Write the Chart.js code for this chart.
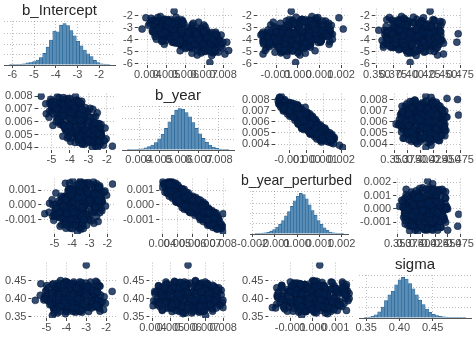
<!DOCTYPE html>
<html>
<head>
<meta charset="UTF-8">
<title>mcmc pairs</title>
<script src="https://cdn.jsdelivr.net/npm/chart.js"></script>
<style>
  html, body { margin: 0; padding: 0; background: #fff; }
  #grid { position: relative; width: 474px; height: 338px; overflow: hidden; }
  #grid canvas { position: absolute; }
</style>
</head>
<body>
<div id="grid"></div>
<script>
// posterior draws, shown in both triangles
const drawsIntercept = [-3.18,-3.48,-3.87,-4.38,-3.93,-2.76,-3.33,-4.38,-3.18,-3.93,
  -3.18,-4.38,-2.70,-4.23,-2.55,-4.59,-3.33,-3.03,-4.02,-4.77,
  -2.88,-3.96,-3.39,-3.21,-4.62,-2.79,-3.75,-4.23,-2.88,-2.91,
  -4.20,-3.45,-3.66,-3.30,-4.44,-2.76,-4.41,-3.72,-3.03,-4.29,
  -3.99,-2.67,-3.96,-3.93,-2.76,-3.51,-4.65,-2.31,-4.65,-3.54,
  -4.05,-2.49,-5.10,-2.82,-3.99,-3.54,-3.81,-3.90,-3.60,-3.36,
  -3.99,-3.36,-4.08,-3.36,-2.73,-4.98,-2.34,-4.71,-3.24,-2.91,
  -4.08,-3.90,-3.24,-3.57,-3.87,-4.77,-2.43,-3.33,-3.06,-3.87,
  -2.31,-5.04,-2.61,-5.28,-2.61,-3.81,-4.44,-3.33,-3.78,-4.56,
  -2.34,-4.44,-2.73,-4.53,-3.57,-4.05,-2.82,-3.75,-3.63,-2.52,
  -4.53,-3.63,-3.21,-3.63,-3.96,-3.15,-2.73,-4.59,-3.60,-3.87,
  -4.59,-2.37,-4.29,-3.36,-4.59,-2.79,-3.21,-3.78,-3.45,-4.41,
  -3.63,-3.06,-4.08,-3.42,-4.98,-2.31,-3.93,-3.36,-3.57,-4.38,
  -3.51,-2.49,-4.68,-2.61,-4.29,-3.48,-3.42,-4.92,-3.33,-2.70,
  -4.53,-3.39,-2.34,-5.31,-3.39,-3.63,-2.73,-4.20,-2.76,-4.38,
  -3.06,-4.08,-4.53,-2.40,-3.93,-3.30,-3.48,-3.60,-3.99,-3.30,
  -4.38,-2.82,-4.71,-2.46,-4.95,-2.31,-4.11,-3.99,-3.45,-4.20,
  -3.18,-2.43,-3.57,-2.46,-5.01,-3.54,-4.29,-3.21,-3.21,-4.29,
  -4.38,-2.28,-3.39,-3.96,-3.30,-3.24,-3.39,-3.57,-4.98,-2.04,
  -4.62,-4.11,-2.88,-4.17,-3.33,-2.73,-4.14,-4.11,-3.39,-5.10,
  -2.43,-4.35,-3.09,-4.62,-2.52,-4.08,-3.54,-3.45,-3.12,-4.65,
  -2.19,-3.81,-4.50,-2.91,-3.63,-4.29,-2.61,-4.14,-4.32,-2.67,
  -4.86,-2.43,-4.92,-2.73,-3.81,-3.96,-4.35,-2.79,-4.02,-3.39,
  -4.83,-3.42,-4.38,-2.67,-3.87,-2.13,-4.08,-4.05,-3.75,-2.49,
  -4.74,-3.51,-3.51,-5.13,-2.10,-3.33,-3.72,-3.90,-3.66,-3.42];
const drawsYear = [0.00621,0.00516,0.00719,0.00572,0.00663,0.00453,0.00600,0.00684,0.00544,0.00754,
  0.00488,0.00642,0.00586,0.00705,0.00530,0.00628,0.00425,0.00670,0.00558,0.00740,
  0.00502,0.00607,0.00656,0.00467,0.00691,0.00579,0.00733,0.00537,0.00635,0.00481,
  0.00768,0.00593,0.00677,0.00446,0.00649,0.00565,0.00712,0.00509,0.00614,0.00551,
  0.00782,0.00474,0.00663,0.00586,0.00698,0.00439,0.00621,0.00523,0.00726,0.00572,
  0.00642,0.00495,0.00747,0.00544,0.00670,0.00460,0.00600,0.00719,0.00516,0.00628,
  0.00558,0.00761,0.00481,0.00656,0.00579,0.00684,0.00432,0.00635,0.00530,0.00705,
  0.00593,0.00740,0.00502,0.00614,0.00537,0.00712,0.00418,0.00649,0.00565,0.00677,
  0.00488,0.00775,0.00551,0.00663,0.00467,0.00691,0.00586,0.00607,0.00509,0.00733,
  0.00558,0.00754,0.00453,0.00621,0.00523,0.00698,0.00572,0.00642,0.00474,0.00670,
  0.00579,0.00726,0.00495,0.00635,0.00446,0.00684,0.00544,0.00789,0.00530,0.00600,
  0.00712,0.00481,0.00656,0.00565,0.00747,0.00460,0.00628,0.00516,0.00691,0.00593,
  0.00768,0.00439,0.00649,0.00537,0.00705,0.00502,0.00614,0.00551,0.00733,0.00488,
  0.00677,0.00586,0.00796,0.00411,0.00642,0.00523,0.00719,0.00572,0.00663,0.00467,
  0.00607,0.00698,0.00509,0.00740,0.00558,0.00621,0.00432,0.00670,0.00544,0.00761,
  0.00684,0.00495,0.00747,0.00460,0.00642,0.00537,0.00726,0.00481,0.00628,0.00565,
  0.00768,0.00439,0.00670,0.00516,0.00705,0.00579,0.00754,0.00474,0.00656,0.00530,
  0.00712,0.00446,0.00614,0.00551,0.00733,0.00502,0.00775,0.00425,0.00663,0.00572,
  0.00691,0.00488,0.00740,0.00523,0.00649,0.00453,0.00698,0.00558,0.00761,0.00467,
  0.00600,0.00677,0.00509,0.00719,0.00432,0.00635,0.00544,0.00782,0.00495,0.00684,
  0.00586,0.00733,0.00460,0.00621,0.00523,0.00747,0.00481,0.00656,0.00537,0.00705,
  0.00418,0.00607,0.00670,0.00516,0.00768,0.00565,0.00642,0.00474,0.00691,0.00593,
  0.00754,0.00446,0.00663,0.00502,0.00719,0.00558,0.00789,0.00404,0.00628,0.00579,
  0.00726,0.00488,0.00649,0.00530,0.00740,0.00453,0.00677,0.00572,0.00712,0.00509,
  0.00600,0.00761,0.00467,0.00635,0.00551,0.00698,0.00439,0.00670,0.00544,0.00614];
const drawsPerturbed = [-0.00043,0.00073,-0.00080,0.00060,-0.00060,0.00098,0.00023,-0.00028,-0.00003,-0.00133,
  0.00108,-0.00030,-0.00043,-0.00028,0.00040,0.00038,0.00143,-0.00085,0.00038,-0.00085,
  0.00045,0.00030,-0.00090,0.00140,-0.00070,-0.00005,-0.00135,0.00095,-0.00038,0.00053,
  -0.00110,-0.00043,-0.00030,0.00093,0.00008,-0.00005,-0.00083,0.00120,-0.00070,0.00055,
  -0.00160,0.00093,-0.00015,0.00003,-0.00125,0.00153,0.00000,0.00018,-0.00038,0.00005,
  0.00018,0.00018,-0.00078,0.00050,-0.00070,0.00160,-0.00035,-0.00063,0.00055,-0.00045,
  0.00063,-0.00160,0.00108,-0.00035,-0.00050,0.00003,0.00093,0.00013,0.00040,-0.00108,
  0.00023,-0.00113,0.00113,-0.00050,0.00098,-0.00073,0.00128,-0.00085,0.00050,-0.00078,
  0.00035,-0.00105,0.00018,0.00010,0.00045,-0.00053,0.00055,-0.00010,0.00065,-0.00060,
  -0.00025,-0.00118,0.00135,0.00050,0.00025,-0.00053,0.00008,-0.00073,0.00130,-0.00113,
  0.00043,-0.00108,0.00090,-0.00055,0.00160,-0.00070,-0.00008,-0.00133,0.00108,-0.00023,
  -0.00040,0.00070,-0.00030,-0.00035,-0.00058,0.00065,0.00003,0.00095,-0.00103,0.00010,
  -0.00140,0.00128,-0.00043,0.00093,-0.00048,0.00018,0.00025,0.00010,-0.00153,0.00145,
  -0.00055,-0.00023,-0.00145,0.00143,0.00000,0.00035,-0.00113,0.00080,-0.00088,0.00115,
  0.00038,-0.00138,0.00053,-0.00050,0.00043,-0.00025,0.00080,0.00018,-0.00030,-0.00100,
  -0.00100,0.00108,-0.00095,0.00078,0.00023,-0.00005,-0.00095,0.00133,-0.00053,0.00065,
  -0.00090,0.00078,-0.00035,0.00053,-0.00025,-0.00040,-0.00158,0.00110,-0.00013,0.00105,
  -0.00138,0.00115,-0.00055,0.00008,-0.00073,0.00133,-0.00140,0.00115,-0.00063,0.00028,
  -0.00020,0.00020,-0.00125,0.00080,-0.00100,0.00148,-0.00068,-0.00008,-0.00075,0.00065,
  0.00058,-0.00083,0.00078,-0.00050,0.00145,-0.00048,0.00105,-0.00130,0.00033,0.00000,
  -0.00053,-0.00130,0.00150,0.00015,0.00008,-0.00068,0.00083,-0.00078,0.00083,-0.00085,
  0.00085,0.00045,-0.00008,0.00008,-0.00155,0.00043,-0.00080,0.00148,-0.00058,-0.00010,
  -0.00055,0.00058,-0.00023,0.00070,-0.00138,0.00085,-0.00158,0.00155,-0.00033,0.00050,
  -0.00063,0.00055,0.00033,-0.00018,-0.00093,0.00093,-0.00100,0.00065,-0.00055,0.00030,
  0.00028,-0.00165,0.00130,0.00035,-0.00008,-0.00100,0.00138,-0.00050,0.00050,-0.00018];
const drawsSigma = [0.398,0.425,0.410,0.383,0.441,0.416,0.389,0.373,0.409,0.401,
  0.394,0.432,0.421,0.380,0.405,0.418,0.400,0.428,0.367,0.414,
  0.437,0.387,0.392,0.412,0.378,0.446,0.407,0.423,0.396,0.376,
  0.419,0.430,0.364,0.403,0.436,0.382,0.416,0.391,0.443,0.398,
  0.385,0.427,0.371,0.410,0.394,0.421,0.374,0.434,0.401,0.362,
  0.448,0.389,0.405,0.425,0.383,0.414,0.439,0.387,0.396,0.419,
  0.369,0.430,0.409,0.380,0.416,0.400,0.436,0.391,0.445,0.376,
  0.412,0.365,0.423,0.403,0.428,0.385,0.418,0.373,0.432,0.407,
  0.392,0.421,0.378,0.441,0.398,0.437,0.360,0.389,0.410,0.427,
  0.382,0.394,0.432,0.401,0.419,0.369,0.425,0.396,0.446,0.405,
  0.374,0.414,0.387,0.434,0.400,0.409,0.383,0.423,0.367,0.416,
  0.430,0.391,0.380,0.439,0.396,0.412,0.371,0.427,0.392,0.443,
  0.407,0.378,0.421,0.401,0.436,0.385,0.410,0.364,0.418,0.428,
  0.376,0.398,0.389,0.414,0.450,0.383,0.425,0.394,0.365,0.421,
  0.403,0.437,0.373,0.409,0.432,0.382,0.392,0.416,0.423,0.387,
  0.421,0.380,0.434,0.396,0.373,0.428,0.385,0.441,0.369,0.418,
  0.391,0.425,0.439,0.376,0.412,0.365,0.405,0.389,0.432,0.382,
  0.436,0.416,0.374,0.445,0.398,0.421,0.430,0.383,0.362,0.437,
  0.378,0.410,0.371,0.446,0.394,0.367,0.427,0.401,0.423,0.387,
  0.371,0.443,0.364,0.414,0.434,0.392,0.428,0.380,0.419,0.400,
  0.437,0.376,0.407,0.360,0.448,0.389,0.373,0.425,0.385,0.441,
  0.391,0.409,0.369,0.432,0.403,0.378,0.414,0.439,0.365,0.423,
  0.394,0.418,0.430,0.374,0.398,0.445,0.410,0.394,0.364,0.436,
  0.383,0.427,0.403,0.387,0.437,0.369,0.419,0.358,0.441,0.382,
  0.416,0.374,0.430,0.396,0.405,0.446,0.387,0.378,0.412,0.400];

// draws that only appear above the diagonal
const upperIntercept = [-5.90, -2.15, -3.10, -1.60, -5.20, -4.20, -3.50, -4.90, -3.20, -3.60, -4.20];
const upperYear = [0.0073, 0.0039, 0.0037, 0.0054, 0.0081, 0.0080, 0.0066, 0.0083, 0.0058, 0.0079, 0.0082];
const upperPerturbed = [-0.0001, 0.0019, 0.0021, -0.0003, -0.0016, -0.0013, -0.0004, -0.0015, 0.0002, -0.0017, -0.0016];
const upperSigma = [0.400, 0.420, 0.410, 0.430, 0.450, 0.470, 0.472, 0.410, 0.353, 0.390, 0.420];

// draws that only appear below the diagonal
const lowerIntercept = [-3.00, -5.56, -1.70, -3.70, -4.70, -3.00, -2.50];
const lowerYear = [0.0060, 0.0080, 0.0041, 0.0080, 0.0070, 0.0045, 0.0040];
const lowerPerturbed = [0.0003, -0.0006, 0.0014, -0.0018, -0.0005, 0.0014, 0.0012];
const lowerSigma = [0.493, 0.395, 0.420, 0.375, 0.353, 0.410, 0.380];

// histogram bar heights on the diagonal (30 bins each)
const histIntercept = [1,1,1,2,3,5,6,8,12,18,28,43,60,82,80,96,100,95,83,70,57,46,36,27,20,11,6,3,2,1];
const histYear = [0.5,1,1,2,3,5,8,12,18,27,38,52,68,84,96,100,98,90,80,66,52,39,28,19,12,7,4,2,1,0.5];
const histPerturbed = [1,1,2,3,4,7,11,17,24,33,45,55,68,82,93,100,97,87,72,58,46,33,24,15,9,5,3,2,1,1];
const histSigma = [1,2,4,8,15,27,43,57,66,82,94,100,96,85,72,57,44,33,22,14,9,6,4,3,2,1,1,1,0.5,0.5];

const interceptTicks = [-6, -5, -4, -3, -2];
const yearTicks = [0.004, 0.005, 0.006, 0.007, 0.008];
const perturbedTicks = [-0.002, -0.001, 0, 0.001, 0.002];
const sigmaTicksWide = [0.350, 0.375, 0.400, 0.425, 0.450, 0.475];
const sigmaTicks = [0.35, 0.40, 0.45];

const variables = [
  { name: 'b_Intercept', draws: drawsIntercept, upper: upperIntercept, lower: lowerIntercept,
    counts: histIntercept, binStart: -6.15, binWidth: 0.155,
    xTicks: interceptTicks, xDec: 0, yTicks: interceptTicks, yDec: 0, hTicks: interceptTicks, hDec: 0 },
  { name: 'b_year', draws: drawsYear, upper: upperYear, lower: lowerYear,
    counts: histYear, binStart: 0.0034, binWidth: 0.00017,
    xTicks: yearTicks, xDec: 3, yTicks: yearTicks, yDec: 3, hTicks: yearTicks, hDec: 3 },
  { name: 'b_year_perturbed', draws: drawsPerturbed, upper: upperPerturbed, lower: lowerPerturbed,
    counts: histPerturbed, binStart: -0.0019, binWidth: 0.0001333,
    xTicks: perturbedTicks, xDec: 3, yTicks: perturbedTicks, yDec: 3, hTicks: perturbedTicks, hDec: 3 },
  { name: 'sigma', draws: drawsSigma, upper: upperSigma, lower: lowerSigma,
    counts: histSigma, binStart: 0.347, binWidth: 0.0051,
    xTicks: sigmaTicksWide, xDec: 3, yTicks: sigmaTicks, yDec: 2, hTicks: sigmaTicks, hDec: 2 }
];

Chart.defaults.font.family = '"Liberation Sans", Arial, sans-serif';
Chart.defaults.font.size = 11;
Chart.defaults.color = '#4d4d4d';

const colX = [0, 118, 237, 355], colW = [118, 119, 118, 119];
const rowY = [0, 85, 170, 254], rowH = [85, 85, 84, 84];
const gridColor = 'rgba(0,0,0,0.25)';

const common = {
  responsive: false,
  animation: false,
  devicePixelRatio: 1,
  events: [],
  plugins: { legend: { display: false }, tooltip: { enabled: false } }
};

function makeCanvas(r, c) {
  const cv = document.createElement('canvas');
  cv.width = colW[c];
  cv.height = rowH[r];
  cv.style.left = colX[c] + 'px';
  cv.style.top = rowY[r] + 'px';
  cv.style.width = colW[c] + 'px';
  cv.style.height = rowH[r] + 'px';
  document.getElementById('grid').appendChild(cv);
  return cv;
}

function padRange(vals) {
  const lo = Math.min(...vals), hi = Math.max(...vals), pad = (hi - lo) * 0.05;
  return [lo - pad, hi + pad];
}

function axis(min, max, ticks, dec, dir) {
  const a = {
    type: 'linear', min: min, max: max, offset: false,
    afterBuildTicks: s => {
      s.ticks = ticks.filter(v => v >= min && v <= max).map(v => ({ value: v }));
    },
    ticks: {
      autoSkip: false, maxRotation: 0, minRotation: 0,
      padding: dir === 'x' ? 0 : 2,
      callback: v => Number(v).toFixed(dec)
    },
    grid: { color: gridColor, lineWidth: 1, tickLength: 3, tickColor: '#444', tickWidth: 1, offset: false },
    border: { display: false, dash: [1, 2] }
  };
  if (dir === 'x') a.afterFit = s => { s.height = 15; };
  return a;
}

function scatterPanel(r, c) {
  const xv = variables[c], yv = variables[r];
  const side = c > r ? 'upper' : 'lower';
  const xs = xv.draws.concat(xv[side]);
  const ys = yv.draws.concat(yv[side]);
  const xr = padRange(xs), yr = padRange(ys);
  new Chart(makeCanvas(r, c), {
    type: 'scatter',
    data: {
      datasets: [{
        data: xs.map((x, i) => ({ x: x, y: ys[i] })),
        pointRadius: 3.5,
        pointBackgroundColor: 'rgba(1,31,75,0.8)',
        pointBorderColor: 'rgba(1,22,55,0.85)',
        pointBorderWidth: 0.6
      }]
    },
    options: {
      ...common,
      layout: { autoPadding: false, padding: { left: 3, right: 2, top: 6, bottom: 5 } },
      scales: {
        x: axis(xr[0], xr[1], xv.xTicks, xv.xDec, 'x'),
        y: axis(yr[0], yr[1], yv.yTicks, yv.yDec, 'y')
      }
    }
  });
}

function histPanel(i) {
  const v = variables[i];
  const bars = v.counts.map((n, k) => ({ x: v.binStart + (k + 0.5) * v.binWidth, y: n }));
  const lo = v.binStart, hi = v.binStart + v.counts.length * v.binWidth, pad = (hi - lo) * 0.05;
  const xAxis = axis(lo - pad, hi + pad, v.hTicks, v.hDec, 'x');
  xAxis.border = { display: true, color: '#555', width: 1, dash: [1, 2] };
  new Chart(makeCanvas(i, i), {
    type: 'bar',
    data: {
      datasets: [{
        data: bars,
        backgroundColor: '#5a8db5',
        borderColor: '#1f5f94',
        borderWidth: 0.6,
        barPercentage: 1,
        categoryPercentage: 1
      }]
    },
    options: {
      ...common,
      layout: { autoPadding: false, padding: { left: 4, right: 3, top: 0, bottom: 5 } },
      plugins: {
        legend: { display: false },
        tooltip: { enabled: false },
        title: { display: true, text: v.name, font: { size: 15, weight: 'normal' }, color: '#262626', padding: { top: 2, bottom: 1 } }
      },
      scales: {
        x: xAxis,
        y: {
          min: 0, max: 106,
          ticks: { display: false, stepSize: 25 },
          grid: { color: gridColor, drawTicks: false },
          border: { display: false, dash: [1, 2] },
          afterFit: s => { s.width = 0; }
        }
      }
    }
  });
}

for (let r = 0; r < 4; r++) {
  for (let c = 0; c < 4; c++) {
    if (r === c) histPanel(r);
    else scatterPanel(r, c);
  }
}
</script>
</body>
</html>
